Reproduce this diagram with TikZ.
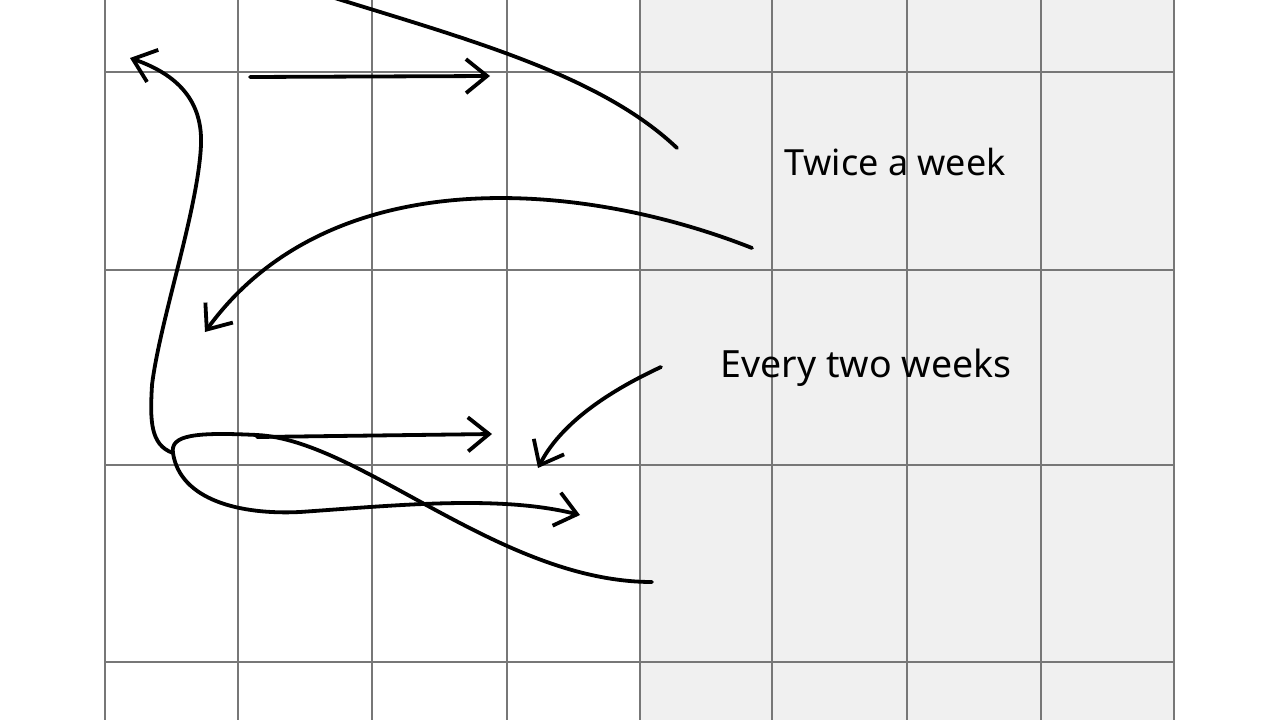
\documentclass[tikz,border=0pt]{standalone}
\usepackage{fontspec}
\setmainfont{Noto Sans}
\usetikzlibrary{arrows.meta}
\definecolor{gridgray}{HTML}{777777}
\definecolor{panelgray}{HTML}{F0F0F0}
\tikzset{
  gridline/.style={draw=gridgray, line width=2pt},
  stroke/.style={draw=black, line width=3.8pt, line cap=round},
  arr/.style={stroke, -{Straight Barb[length=21pt,width=34pt,line width=3.8pt]}},
  lbl/.style={font=\fontsize{36}{40}\selectfont, inner sep=0pt}
}
\begin{document}
\begin{tikzpicture}[x=1pt,y=-1pt]
\useasboundingbox (0,0) rectangle (1280,720);
\fill[white] (0,0) rectangle (1280,720);
\fill[panelgray] (640,0) rectangle (1174,720);
\foreach \x in {105,238,372,507,640,772,907,1041,1174}
  \draw[gridline] (\x,0) -- (\x,720);
\foreach \y in {72,270,465,662}
  \draw[gridline] (105,\y) -- (1174,\y);

% labels
\node[lbl] (twice) at (895,162) {Twice a week};
\node[lbl, font=\fontsize{37.5}{41}\selectfont] (every) at (866,368) {Every two weeks};

% coordinates
\coordinate (c1s) at (325,-5);
\coordinate (c1e) at (677,148);
\coordinate (a1s) at (250,77);
\coordinate (a1e) at (490,76);
\coordinate (swS) at (752,248);
\coordinate (swE) at (205,332);
\coordinate (jn) at (173,453);
\coordinate (tipTL) at (130,58);
\coordinate (a2s) at (257,437);
\coordinate (a2e) at (492,434);
\coordinate (loopE) at (652,582);
\coordinate (brE) at (580,515);
\coordinate (ewS) at (661,367);
\coordinate (ewE) at (538,468);

% strokes
\draw[stroke] (c1s) .. controls (470,40) and (600,75) .. (c1e);
\draw[arr] (a1s) -- (a1e);
\draw[arr] (swS) .. controls (580,180) and (330,160) .. (swE);
\draw[arr] (jn) .. controls (150,445) and (150,420) .. (152,385)
  .. controls (160,320) and (198,210) .. (201,145)
  .. controls (203,95) and (170,72) .. (tipTL);
\draw[stroke] (jn) .. controls (170,435) and (195,432) .. (257,435)
  .. controls (360,440) and (500,582) .. (loopE);
\draw[arr] (jn) .. controls (180,500) and (240,515) .. (300,512)
  .. controls (400,505) and (500,495) .. (brE);
\draw[arr] (a2s) -- (a2e);
\draw[arr] (ewS) .. controls (605,393) and (560,425) .. (ewE);
\end{tikzpicture}
\end{document}
